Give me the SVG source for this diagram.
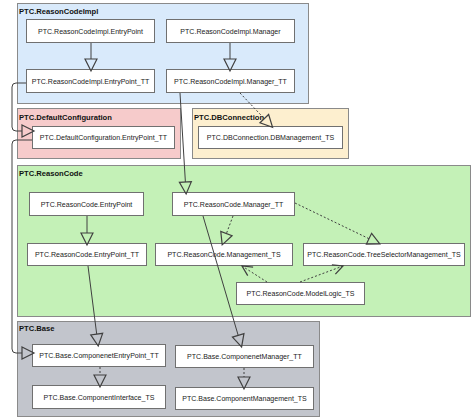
<svg xmlns="http://www.w3.org/2000/svg" width="474" height="419" viewBox="0 0 474 419">
<style>
.pkg{stroke:#8a8a8a;stroke-width:1}
.node rect{fill:#ffffff;stroke:#707070;stroke-width:1}
.node text{font-family:"Liberation Sans",Arial,sans-serif;font-size:7.05px;fill:#222;text-anchor:middle}
.title{font-family:"Liberation Sans",Arial,sans-serif;font-size:7.6px;font-weight:bold;fill:#111}
.c{fill:none;stroke:#404040;stroke-width:1}
.d{stroke-dasharray:2,2}
.g{marker-end:url(#tri)}
.o{marker-end:url(#open)}
</style>
<defs>
<marker id="tri" markerUnits="userSpaceOnUse" markerWidth="12" markerHeight="12" viewBox="0 0 10 10" refX="0" refY="5" orient="auto" overflow="visible">
<path d="M0,0 L10,5 L0,10 Z" fill="none" stroke="#404040" stroke-width="1"/>
</marker>
<marker id="open" markerUnits="userSpaceOnUse" markerWidth="10" markerHeight="10" viewBox="0 0 8 8" refX="8" refY="4" orient="auto" overflow="visible">
<path d="M0,0 L8,4 L0,8" fill="none" stroke="#404040" stroke-width="1"/>
</marker>
</defs>
<rect width="474" height="419" fill="#ffffff"/>
<g id="pkg-ReasonCodeImpl">
<rect class="pkg" x="17.5" y="3.5" width="291" height="100" fill="#d9eafb"/>
<text class="title" x="19" y="14">PTC.ReasonCodeImpl</text>
</g>
<g id="pkg-DefaultConfiguration">
<rect class="pkg" x="17.5" y="108.5" width="163" height="50" fill="#f6cbcb"/>
<text class="title" x="19" y="120">PTC.DefaultConfiguration</text>
</g>
<g id="pkg-DBConnection">
<rect class="pkg" x="192.5" y="108.5" width="156" height="50" fill="#fdefcf"/>
<text class="title" x="194" y="120">PTC.DBConnection</text>
</g>
<g id="pkg-ReasonCode">
<rect class="pkg" x="17.5" y="165.5" width="453" height="151" fill="#c4f1b7"/>
<text class="title" x="19" y="176">PTC.ReasonCode</text>
</g>
<g id="pkg-Base">
<rect class="pkg" x="17.5" y="321.5" width="302" height="95" fill="#c2c5cc"/>
<text class="title" x="19" y="331">PTC.Base</text>
</g>
<g id="n-impl-entrypoint" class="node"><rect x="26.5" y="19.5" width="128" height="23"/><text x="90.5" y="33.5">PTC.ReasonCodeImpl.EntryPoint</text></g>
<g id="n-impl-manager" class="node"><rect x="166.5" y="19.5" width="128" height="23"/><text x="230.5" y="33.5">PTC.ReasonCodeImpl.Manager</text></g>
<g id="n-impl-entrypoint-tt" class="node"><rect x="26.5" y="69.5" width="128" height="23"/><text x="90.5" y="83.5">PTC.ReasonCodeImpl.EntryPoint_TT</text></g>
<g id="n-impl-manager-tt" class="node"><rect x="166.5" y="69.5" width="128" height="23"/><text x="230.5" y="83.5">PTC.ReasonCodeImpl.Manager_TT</text></g>
<g id="n-defcfg-entrypoint-tt" class="node"><rect x="32.5" y="126.5" width="142" height="22"/><text x="103.5" y="140">PTC.DefaultConfiguration.EntryPoint_TT</text></g>
<g id="n-db-management-ts" class="node"><rect x="198.5" y="126.5" width="144" height="22"/><text x="270.5" y="140">PTC.DBConnection.DBManagement_TS</text></g>
<g id="n-rc-entrypoint" class="node"><rect x="29.5" y="192.5" width="114" height="23"/><text x="86.5" y="206.5">PTC.ReasonCode.EntryPoint</text></g>
<g id="n-rc-manager-tt" class="node"><rect x="172.5" y="192.5" width="122" height="23"/><text x="233.5" y="206.5">PTC.ReasonCode.Manager_TT</text></g>
<g id="n-rc-entrypoint-tt" class="node"><rect x="27.5" y="243.5" width="119" height="22"/><text x="87" y="257">PTC.ReasonCode.EntryPoint_TT</text></g>
<g id="n-rc-management-ts" class="node"><rect x="155.5" y="243.5" width="137" height="22"/><text x="224" y="257">PTC.ReasonCode.Management_TS</text></g>
<g id="n-rc-treeselector-ts" class="node"><rect x="303.5" y="243.5" width="161" height="22"/><text x="384" y="257">PTC.ReasonCode.TreeSelectorManagement_TS</text></g>
<g id="n-rc-modellogic-ts" class="node"><rect x="236.5" y="282.5" width="128" height="22"/><text x="300.5" y="296">PTC.ReasonCode.ModelLogic_TS</text></g>
<g id="n-base-entrypoint-tt" class="node"><rect x="32.5" y="344.5" width="133" height="22"/><text x="99" y="358">PTC.Base.ComponenetEntryPoint_TT</text></g>
<g id="n-base-manager-tt" class="node"><rect x="175.5" y="345.5" width="138" height="22"/><text x="244.5" y="359">PTC.Base.ComponenetManager_TT</text></g>
<g id="n-base-interface-ts" class="node"><rect x="32.5" y="385.5" width="133" height="23"/><text x="99" y="399.5">PTC.Base.ComponentInterface_TS</text></g>
<g id="n-base-management-ts" class="node"><rect x="175.5" y="387.5" width="138" height="22"/><text x="244.5" y="401">PTC.Base.ComponentManagement_TS</text></g>
<g id="connectors">
<path class="c g" d="M91,43 V59"/>
<path class="c g" d="M230,43 V59"/>
<path class="c g" d="M26,83 H16 Q12,83 12,87 V127 Q12,131 16,131 H22"/>
<path class="c g" d="M32,140 H16 Q12,140 12,144 V349 Q12,353 16,353 H22"/>
<path class="c g" d="M180,93 L185.4,182"/>
<path class="c d g" d="M240,93 L264.3,118.6"/>
<path class="c g" d="M87,216 V233"/>
<path class="c d g" d="M233,216 L226.4,233.6"/>
<path class="c d g" d="M295,203 L369,238.7"/>
<path class="c d o" d="M267,282 L242,266"/>
<path class="c d o" d="M300,282 L343,266"/>
<path class="c g" d="M88,266 L96.7,334.1"/>
<path class="c g" d="M203,216 L238.2,335.4"/>
<path class="c d g" d="M100,367 V375"/>
<path class="c d g" d="M244,368 V377"/>
</g>
</svg>
